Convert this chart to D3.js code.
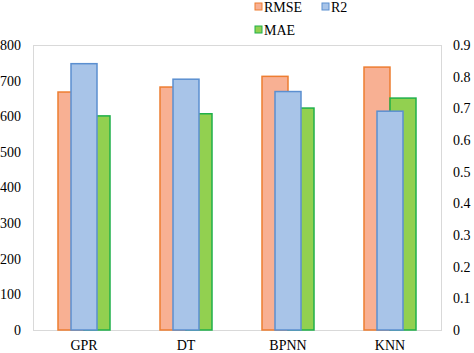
<!DOCTYPE html>
<html>
<head>
<meta charset="utf-8">
<script src="https://cdn.jsdelivr.net/npm/d3@7"></script>
<style>
  body { margin: 0; background: #fff; }
  svg text { font-family: "Liberation Serif", "Times New Roman", serif; font-size: 14px; fill: #000; }
</style>
</head>
<body>
<svg id="chart" width="474" height="353"></svg>
<script>
const models = ['GPR', 'DT', 'BPNN', 'KNN'];
const rmse = [668, 682, 712, 738];
const mae = [601, 607, 623, 651];
const r2 = [0.841, 0.792, 0.753, 0.691];
const leftTicks = [0, 100, 200, 300, 400, 500, 600, 700, 800];
const rightTicks = [0, 0.1, 0.2, 0.3, 0.4, 0.5, 0.6, 0.7, 0.8, 0.9];

const plot = { left: 33, right: 441, top: 45, bottom: 330 };

const svg = d3.select('#chart');

const x = d3.scaleBand()
    .domain(models)
    .range([plot.left, plot.right]);

const yLeft = d3.scaleLinear().domain([0, 800]).range([plot.bottom, plot.top]);
const yRight = d3.scaleLinear().domain([0, 0.9]).range([plot.bottom, plot.top]);

// plot frame
svg.append('rect')
    .attr('x', plot.left + 0.5)
    .attr('y', plot.top + 0.5)
    .attr('width', plot.right - plot.left)
    .attr('height', plot.bottom - plot.top)
    .attr('fill', 'none')
    .attr('stroke', '#d9d9d9');

// axes (labels only, no lines)
const axL = svg.append('g')
    .attr('transform', `translate(${plot.left - 12}, 0)`)
    .call(d3.axisLeft(yLeft).tickValues(leftTicks).tickSize(0).tickFormat(d3.format('d')));
const axR = svg.append('g')
    .attr('transform', `translate(${plot.right + 12}, 0)`)
    .call(d3.axisRight(yRight).tickValues(rightTicks).tickSize(0)
        .tickFormat(d => d === 0 ? '0' : d3.format('.1f')(d)));
const axB = svg.append('g')
    .attr('transform', `translate(0, ${plot.bottom})`)
    .call(d3.axisBottom(x).tickSize(0));
[axL, axR, axB].forEach(a => {
  a.select('.domain').remove();
  a.attr('font-family', null).attr('font-size', null);
  a.selectAll('text').attr('fill', '#000');
});
axL.selectAll('text').attr('x', 0);
axR.selectAll('text').attr('x', 0);
axB.selectAll('text').attr('y', 20).attr('dy', 0);

// bar geometry (Excel style: primary pair side by side, secondary centered on top)
const bw = 26;

const styles = {
  rmse: { fill: '#f8b093', stroke: '#ed7d31' },
  r2: { fill: '#a8c4e8', stroke: '#5b8fd0' },
  mae: { fill: '#92d050', stroke: '#1fb04a' }
};

function drawBars(values, scale, offset, st) {
  svg.append('g').selectAll('rect')
      .data(values)
      .enter()
      .append('rect')
      .attr('x', (v, i) => x(models[i]) + x.bandwidth() / 2 + offset)
      .attr('y', v => scale(v))
      .attr('width', bw)
      .attr('height', v => plot.bottom - scale(v))
      .attr('fill', st.fill)
      .attr('stroke', st.stroke)
      .attr('stroke-width', 1.5);
}

drawBars(rmse, yLeft, -bw, styles.rmse);
drawBars(mae, yLeft, 0, styles.mae);
drawBars(r2, yRight, -bw / 2, styles.r2);

// legend
const legend = [
  { name: 'RMSE', key: 'rmse', x: 255, y: 7 },
  { name: 'R2', key: 'r2', x: 322, y: 7 },
  { name: 'MAE', key: 'mae', x: 255, y: 30 }
];
const lg = svg.append('g').selectAll('g').data(legend).enter().append('g');
lg.append('rect')
    .attr('x', d => d.x)
    .attr('y', d => d.y - 4)
    .attr('width', 7)
    .attr('height', 7)
    .attr('fill', d => styles[d.key].fill)
    .attr('stroke', d => styles[d.key].stroke)
    .attr('stroke-width', 1);
lg.append('text')
    .attr('x', d => d.x + 9)
    .attr('y', d => d.y + 5)
    .text(d => d.name);
</script>
</body>
</html>
